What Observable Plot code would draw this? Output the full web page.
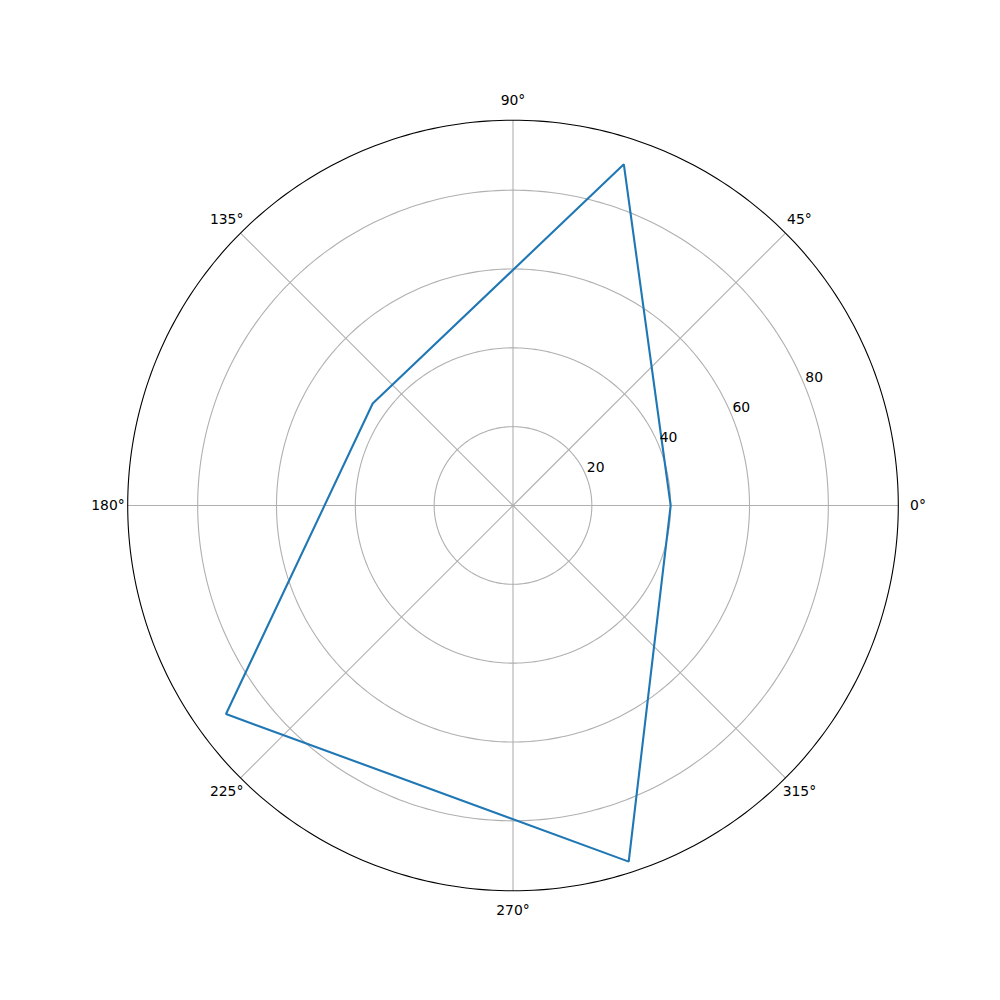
<!DOCTYPE html>
<html><head><meta charset="utf-8">
<script src="https://cdn.jsdelivr.net/npm/d3@7"></script>
<script src="https://cdn.jsdelivr.net/npm/@observablehq/plot@0.6"></script>
<style>body{margin:0;background:#fff}</style>
</head><body><div id="chart"></div>
<script>
// Data (polar): angle in degrees, radius value
const thetaDeg = [0, 72, 144, 216, 288, 360];
const rValues = [40, 91, 44, 90, 95, 40];
const rTicks = [20, 40, 60, 80];
const thetaTicks = [0, 45, 90, 135, 180, 225, 270, 315];
const thetaTickLabels = ["0°", "45°", "90°", "135°", "180°", "225°", "270°", "315°"];
const rMax = 97.75;
const rLabelAngle = 22.5;

const rad = d => d * Math.PI / 180;
const px = (r, t) => r * Math.cos(rad(t));
const py = (r, t) => r * Math.sin(rad(t));

const series = thetaDeg.map((t, i) => ({t, r: rValues[i]}));

// ring geometry (decoration) built from tick values
const ringAngles = d3.range(0, 361, 1);
const rings = rTicks.flatMap(r => ringAngles.map(t => ({r, t})));
const outer = ringAngles.map(t => ({r: rMax, t}));
const spokes = thetaTicks.map(t => ({t}));
const thetaLabels = thetaTicks.map((t, i) => ({t, label: thetaTickLabels[i]}));
const rLabels = rTicks.map(r => ({r, label: String(r)}));

const R = 385.3, cx = 512.5, cy = 505;
const chart = Plot.plot({
  width: 1000,
  height: 1000,
  marginLeft: cx - R,
  marginRight: 1000 - (cx + R),
  marginTop: cy - R,
  marginBottom: 1000 - (cy + R),
  x: {domain: [-rMax, rMax], axis: null},
  y: {domain: [-rMax, rMax], axis: null},
  style: {fontFamily: "DejaVu Sans", fontSize: "13.9px", background: "#fff", color: "#000"},
  marks: [
    Plot.line(rings, {x: d => px(d.r, d.t), y: d => py(d.r, d.t), z: "r", stroke: "#b0b0b0", strokeWidth: 1.1}),
    Plot.link(spokes, {x1: 0, y1: 0, x2: d => px(rMax, d.t), y2: d => py(rMax, d.t), stroke: "#b0b0b0", strokeWidth: 1.1}),
    Plot.line(series, {x: d => px(d.r, d.t), y: d => py(d.r, d.t), stroke: "#1f77b4", strokeWidth: 2.1, strokeLinejoin: "miter"}),
    Plot.line(outer, {x: d => px(d.r, d.t), y: d => py(d.r, d.t), stroke: "#000", strokeWidth: 1.1}),
    Plot.text(thetaLabels, {x: d => px(rMax * 405 / R, d.t), y: d => py(rMax * 405 / R, d.t), text: "label", fill: "#000", fontSize: 13.9}),
    Plot.text(rLabels, {x: d => px(d.r, rLabelAngle), y: d => py(d.r, rLabelAngle), text: "label", textAnchor: "start", lineAnchor: "bottom", dx: 1, dy: -3, fill: "#000", fontSize: 13.9})
  ]
});
document.getElementById("chart").appendChild(chart);
</script>
</body></html>
